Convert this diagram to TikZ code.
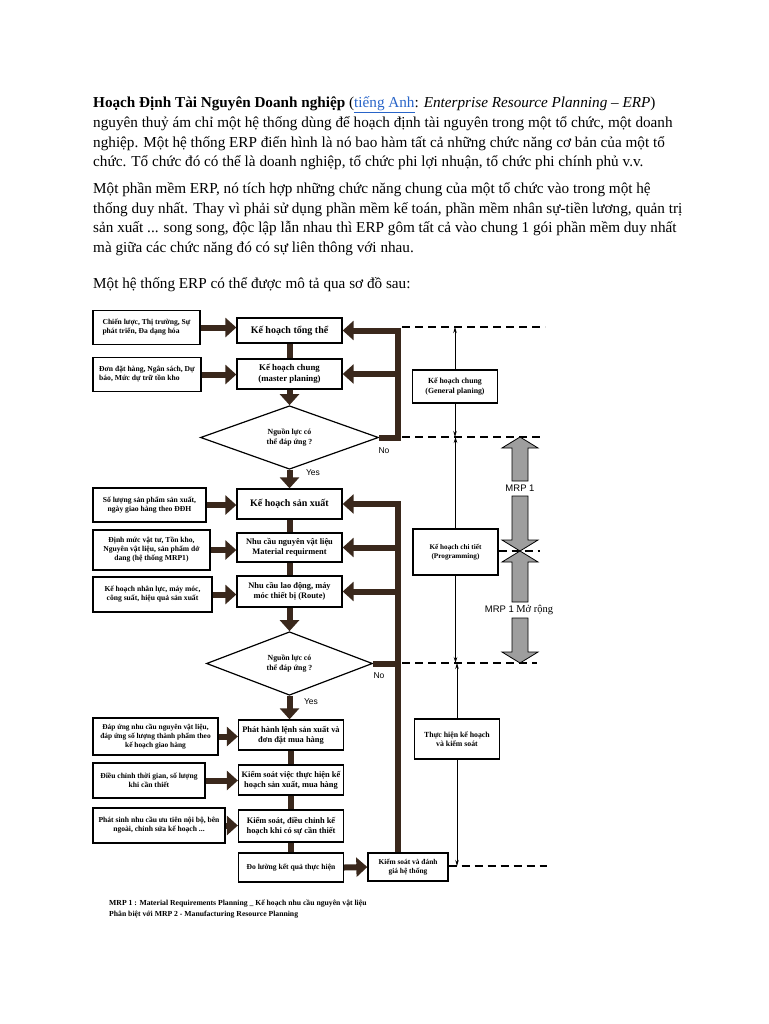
\documentclass[tikz,border=0pt]{standalone}
\usepackage{fontspec}
\setmainfont{Liberation Serif}
\newfontfamily\sansf{Liberation Sans}
\usetikzlibrary{arrows.meta,shapes.geometric}
\definecolor{arrowbrown}{RGB}{58,40,28}
\definecolor{linkblue}{RGB}{40,100,200}
\begin{document}
\begin{tikzpicture}[x=1pt,y=-1pt,
  body/.style={anchor=base west,inner sep=0,font=\fontsize{15.2}{18}\selectfont},
  cbox/.style={draw=black,line width=1.3pt,inner sep=1pt,align=center,minimum width=105pt,font=\bfseries\fontsize{8.4}{10}\selectfont},
  lbox/.style={draw=black,line width=1.6pt,inner sep=1pt,align=center,font=\bfseries\fontsize{7.6}{9}\selectfont},
  ibox/.style={draw=black,line width=1.2pt,inner sep=1pt,align=center,minimum width=85pt,font=\bfseries\fontsize{7.8}{9.6}\selectfont},
  dia/.style={draw=black,line width=1.2pt,diamond,inner sep=0pt,align=center,font=\bfseries\fontsize{7.8}{10.5}\selectfont},
  thk/.style={draw=arrowbrown,line width=6pt},
  thka/.style={thk,-{Triangle[width=19pt,length=11pt]}},
  thinarr/.style={draw=black,line width=0.7pt,-{Stealth[length=6pt,width=3.5pt]}},
  dsh/.style={draw=black,line width=1.2pt,dash pattern=on 8pt off 5pt},
  garrow/.style={draw=black,line width=0.8pt,fill=black!38},
  yn/.style={inner sep=0,font=\sansf\fontsize{8.5}{9}\selectfont},
  captxt/.style={anchor=west,inner sep=0,font=\bfseries\fontsize{7.7}{8}\selectfont}
]
\useasboundingbox[fill=white] (0,0) rectangle (768,1024);

% ---- body text ----
\node[body] (p1a) at (93,108) {\textbf{Hoạch Định Tài Nguyên Doanh nghiệp} (\textcolor{linkblue}{\underline{tiếng Anh}}: \textit{Enterprise Resource Planning – ERP})};
\node[body] (p1b) at (93,128) {nguyên thuỷ ám chỉ một hệ thống dùng để hoạch định tài nguyên trong một tổ chức, một doanh};
\node[body] (p1c) at (93,148) {nghiệp. Một hệ thống ERP điển hình là nó bao hàm tất cả những chức năng cơ bản của một tổ};
\node[body] (p1d) at (93,167) {chức. Tổ chức đó có thể là doanh nghiệp, tổ chức phi lợi nhuận, tổ chức phi chính phủ v.v.};
\node[body] (p2a) at (93,194) {Một phần mềm ERP, nó tích hợp những chức năng chung của một tổ chức vào trong một hệ};
\node[body] (p2b) at (93,213.5) {thống duy nhất. Thay vì phải sử dụng phần mềm kế toán, phần mềm nhân sự-tiền lương, quản trị};
\node[body] (p2c) at (93,233) {sản xuất ... song song, độc lập lẫn nhau thì ERP gôm tất cả vào chung 1 gói phần mềm duy nhất};
\node[body] (p2d) at (93,252.5) {mà giữa các chức năng đó có sự liên thông với nhau.};
\node[body] (p3) at (93,288) {Một hệ thống ERP có thể được mô tả qua sơ đồ sau:};

% ---- center column ----
\node[cbox,minimum height=25pt,font=\bfseries\fontsize{10}{11}\selectfont] (A) at (289.5,330.5) {Kế hoạch tổng thể};
\node[cbox,minimum height=30pt,font=\bfseries\fontsize{8.8}{10.5}\selectfont] (B) at (289.5,374) {Kế hoạch chung\\(master planing)};
\node[dia,minimum width=178pt,minimum height=56pt] (D1) at (289.5,437.5) {Nguồn lực có\\thể đáp ứng ?};
\node[cbox,minimum height=30pt,font=\bfseries\fontsize{10}{11}\selectfont] (C) at (289.5,504) {Kế hoạch sản xuất};
\node[cbox,minimum height=29pt] (D) at (289.5,547.5) {Nhu cầu nguyên vật liệu\\Material requirment};
\node[cbox,minimum height=31pt] (E) at (289.5,591.5) {Nhu cầu lao động, máy\\móc thiết bị (Route)};
\node[dia,minimum width=166pt,minimum height=57pt] (D2) at (289.5,663.5) {Nguồn lực có\\thể đáp ứng ?};
\node[cbox,minimum height=30pt] (F) at (291,735) {Phát hành lệnh sản xuất và\\đơn đặt mua hàng};
\node[cbox,minimum height=30pt] (G) at (291,780) {Kiểm soát việc thực hiện kế\\hoạch sản xuất, mua hàng};
\node[cbox,minimum height=32pt] (H) at (291,826) {Kiểm soát, điều chỉnh kế\\hoạch khi có sự cần thiết};
\node[cbox,minimum height=29pt,font=\bfseries\fontsize{7.6}{9}\selectfont] (I) at (291,867.5) {Đo lường kết quả thực hiện};
\node[cbox,minimum width=80pt,minimum height=28pt,font=\bfseries\fontsize{7.4}{9}\selectfont] (J) at (408,867) {Kiểm soát và đánh\\giá hệ thống};

% ---- left input boxes ----
\node[lbox,minimum width=107pt,minimum height=34pt,align=left] (L1) at (146.5,327.5) {Chiến lược, Thị trường, Sự\\phát triển, Đa dạng hóa};
\node[lbox,minimum width=108pt,minimum height=34pt,align=left] (L2) at (147,374.5) {Đơn đặt hàng, Ngân sách, Dự\\báo, Mức dự trữ tồn kho};
\node[lbox,minimum width=113pt,minimum height=34pt] (L3) at (149.5,505) {Số lượng sản phẩm sản xuất,\\ngày giao hàng theo ĐĐH};
\node[lbox,minimum width=117pt,minimum height=40pt] (L4) at (151.5,550) {Định mức vật tư, Tồn kho,\\Nguyên vật liệu, sản phẩm dở\\dang (hệ thống MRP1)};
\node[lbox,minimum width=119pt,minimum height=35pt] (L5) at (152.5,594.5) {Kế hoạch nhân lực, máy móc,\\công suất, hiệu quả sản xuất};
\node[lbox,minimum width=125pt,minimum height=37pt,font=\bfseries\fontsize{7.4}{8.8}\selectfont] (L6) at (155.5,736.5) {Đáp ứng nhu cầu nguyên vật liệu,\\đáp ứng số lượng thành phẩm theo\\kế hoạch giao hàng};
\node[lbox,minimum width=112pt,minimum height=35pt] (L7) at (149,780.5) {Điều chỉnh thời gian, số lượng\\khi cần thiết};
\node[lbox,minimum width=132pt,minimum height=35pt] (L8) at (159,825.5) {Phát sinh nhu cầu ưu tiên nội bộ, bên\\ngoài, chỉnh sửa kế hoạch ...};

% ---- left arrows ----
\foreach \s/\t in {L1/A,L2/B,L3/C,L4/D,L5/E,L6/F,L7/G,L8/H}
  \draw[thka] (\s.east) -- (\s.east -| \t.west);
\draw[thka] (I.east) -- (J.west);

% ---- center verticals ----
\draw[thk] (A.south) -- (A.south |- B.north);
\draw[thka] (B.south) -- (B.south |- D1.north);
\draw[thka] (D1.south) -- (D1.south |- C.north);
\draw[thk] (C.south) -- (C.south |- D.north);
\draw[thk] (D.south) -- (D.south |- E.north);
\draw[thka] (E.south) -- (E.south |- D2.north);
\draw[thka] (D2.south) -- (D2.south |- F.north);
\draw[thk] (F.south) -- (F.south |- G.north);
\draw[thk] (G.south) -- (G.south |- H.north);
\draw[thk] (H.south) -- (H.south |- I.north);

% ---- feedback loops ----
\coordinate (lx) at (398,0);
\draw[thka] (D1.east) -- (D1.east -| lx) |- (A.east);
\draw[thka] (B.east -| lx) -- (B.east);
\draw[thka] (lx |- J.north) |- (C.east);
\draw[thka] (D.east -| lx) -- (D.east);
\draw[thka] (E.east -| lx) -- (E.east);
\draw[thk] (D2.east) -- (D2.east -| lx);

\node[yn] (y1) at (313,473) {Yes};
\node[yn] (n1) at (384,451) {No};
\node[yn] (y2) at (311,702) {Yes};
\node[yn] (n2) at (379,676) {No};

% ---- right info column ----
\node[ibox,minimum height=33pt] (K1) at (455,386.5) {Kế hoạch chung\\(General planing)};
\node[ibox,minimum height=46pt,font=\bfseries\fontsize{7.2}{9.6}\selectfont] (K2) at (455.5,552) {Kế hoạch chi tiết\\(Programming)};
\node[ibox,minimum height=40pt] (K3) at (457,739) {Thực hiện kế hoạch\\và kiểm soát};

\coordinate (d1a) at (402,327);  \coordinate (d1b) at (545,327);
\coordinate (d2a) at (402,437);  \coordinate (d2b) at (540,437);
\coordinate (d3b) at (540,551);
\coordinate (d4a) at (402,663);  \coordinate (d4b) at (537,663);
\coordinate (d5b) at (547,866);
\draw[dsh] (d1a) -- (d1b);
\draw[dsh] (d2a) -- (d2b);
\draw[dsh] (K2.east |- d3b) -- (d3b);
\draw[dsh] (d4a) -- (d4b);
\draw[dsh] (J.east |- d5b) -- (d5b);

\draw[thinarr] (K1.north) -- (K1.north |- d1a);
\draw[thinarr] (K1.south) -- (K1.south |- d2a);
\draw[thinarr] (K2.north) -- (K2.north |- d2a);
\draw[thinarr] (K2.south) -- (K2.south |- d4a);
\draw[thinarr] (K3.north) -- (K3.north |- d4a);
\draw[thinarr] (K3.south) -- (K3.south |- d5b);

% ---- MRP block arrows ----
\draw[garrow] (520,437) -- (538,448) -- (528,448) -- (528,481) -- (512,481) -- (512,448) -- (502,448) -- cycle;
\draw[garrow] (520,551) -- (538,540) -- (528,540) -- (528,496) -- (512,496) -- (512,540) -- (502,540) -- cycle;
\node[inner sep=0,font=\sansf\fontsize{9.5}{10}\selectfont] (mrp1) at (520,488.5) {MRP 1};
\draw[garrow] (520,551) -- (538,562) -- (528,562) -- (528,602) -- (512,602) -- (512,562) -- (502,562) -- cycle;
\draw[garrow] (520,663) -- (538,652) -- (528,652) -- (528,618) -- (512,618) -- (512,652) -- (502,652) -- cycle;
\node[inner sep=0] (mrp2) at (519,610) {{\sansf\fontsize{9.5}{10}\selectfont MRP 1} {\fontsize{10.5}{11}\selectfont Mở rộng}};

% ---- caption ----
\node[captxt] (c1) at (109,904) {MRP 1 : Material Requirements Planning \_ Kế hoạch nhu cầu nguyên vật liệu};
\node[captxt] (c2) at (109,915) {Phân biệt với MRP 2 - Manufacturing Resource Planning};
\end{tikzpicture}
\end{document}
